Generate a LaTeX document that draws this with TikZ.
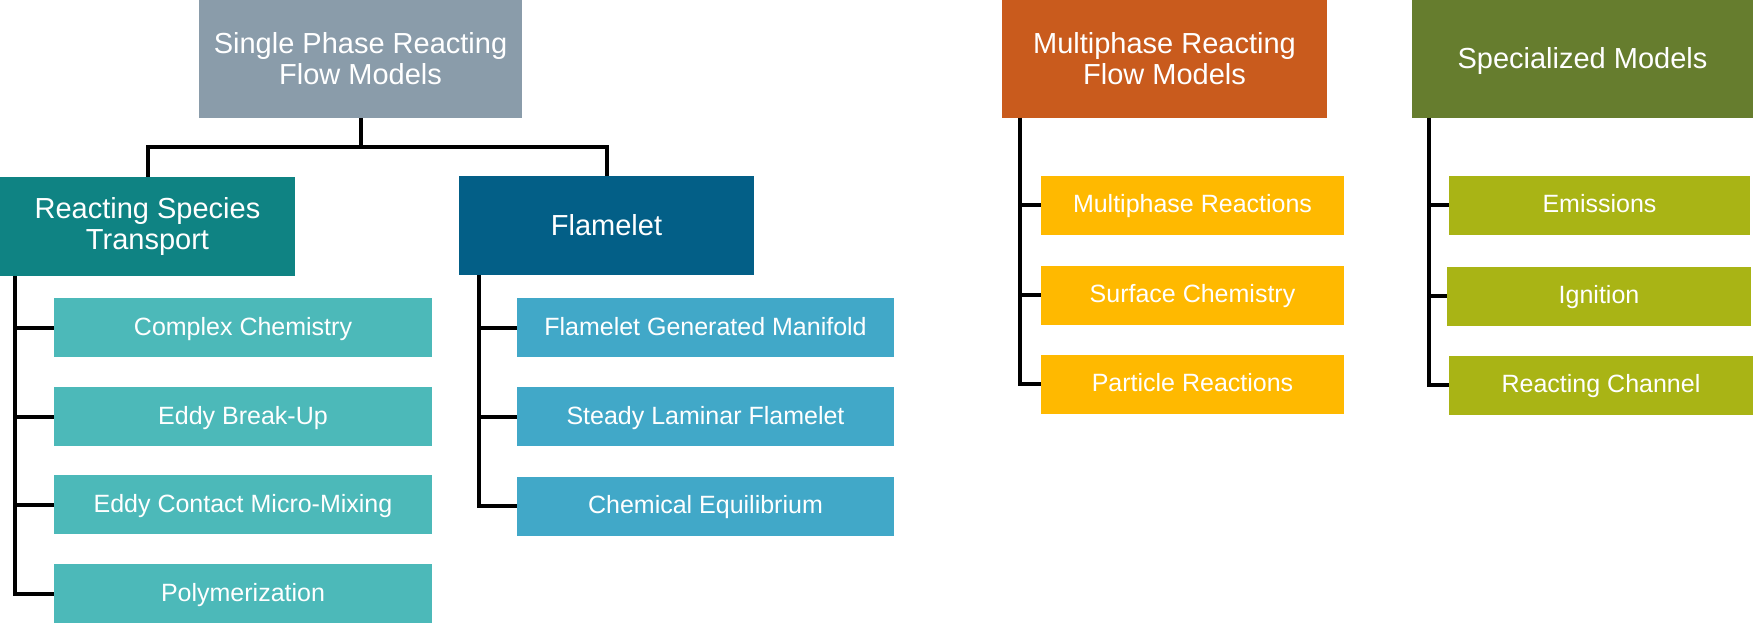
\documentclass[tikz,border=0pt]{standalone}
\usepackage{fontspec}
\setmainfont{Liberation Sans}
\definecolor{cSP}{HTML}{8A9CAA}
\definecolor{cRST}{HTML}{0F8383}
\definecolor{cFL}{HTML}{035F87}
\definecolor{cRSTc}{HTML}{4CB9B9}
\definecolor{cFLc}{HTML}{41A8C8}
\definecolor{cMP}{HTML}{C95B1D}
\definecolor{cMPc}{HTML}{FFB900}
\definecolor{cSM}{HTML}{667D2E}
\definecolor{cSMc}{HTML}{A9B415}
\begin{document}
\begin{tikzpicture}[x=1pt,y=-1pt,
  box/.style={inner sep=0pt,outer sep=0pt,text=white,align=center},
  head/.style={box,font=\fontsize{29}{31}\selectfont,minimum height=118pt},
  sub/.style={box,font=\fontsize{29}{31}\selectfont,minimum height=99pt,minimum width=295pt},
  leaf/.style={box,font=\fontsize{25}{27}\selectfont,minimum height=59pt,text height=18pt,text depth=3pt},
  conn/.style={line width=4pt,black}]
\useasboundingbox (0,0) rectangle (1753,623);
% headers
\node[head,fill=cSP,minimum width=323pt] (sp) at (360.5,59) {Single Phase Reacting\\Flow Models};
\node[head,fill=cMP,minimum width=325pt] (mp) at (1164.5,59) {Multiphase Reacting\\Flow Models};
\node[head,fill=cSM,minimum width=341pt,text height=21pt,text depth=2.5pt] (sm) at (1582.5,59) {Specialized Models};
% sub headers
\node[sub,fill=cRST] (rst) at (147.5,226.5) {Reacting Species\\Transport};
\node[sub,fill=cFL] (fl) at (606.5,225.5) {Flamelet};
% RST children
\node[leaf,fill=cRSTc,minimum width=378pt] (r1) at (243,327.5) {Complex Chemistry};
\node[leaf,fill=cRSTc,minimum width=378pt] (r2) at (243,416.5) {Eddy Break-Up};
\node[leaf,fill=cRSTc,minimum width=378pt] (r3) at (243,504.5) {Eddy Contact Micro-Mixing};
\node[leaf,fill=cRSTc,minimum width=378pt] (r4) at (243,593.5) {Polymerization};
% FL children
\node[leaf,fill=cFLc,minimum width=377pt] (f1) at (705.5,327.5) {Flamelet Generated Manifold};
\node[leaf,fill=cFLc,minimum width=377pt] (f2) at (705.5,416.5) {Steady Laminar Flamelet};
\node[leaf,fill=cFLc,minimum width=377pt] (f3) at (705.5,506) {Chemical Equilibrium};
% MP children
\node[leaf,fill=cMPc,minimum width=303pt] (m1) at (1192.5,205) {Multiphase Reactions};
\node[leaf,fill=cMPc,minimum width=303pt] (m2) at (1192.5,295) {Surface Chemistry};
\node[leaf,fill=cMPc,minimum width=303pt] (m3) at (1192.5,384) {Particle Reactions};
% SM children
\node[leaf,fill=cSMc,minimum width=301pt] (s1) at (1599.5,205) {Emissions};
\node[leaf,fill=cSMc,minimum width=304pt] (s2) at (1599,296) {Ignition};
\node[leaf,fill=cSMc,minimum width=304pt] (s3) at (1601,385) {Reacting Channel};
% connectors
\coordinate (jn) at ([yshift=-29pt]sp.south);
\draw[conn] (sp.south) -- (jn);
\draw[conn] (jn) -| (rst.north);
\draw[conn] (jn) -| (fl.north);
\foreach \c in {r1,r2,r3,r4}{\draw[conn] ([xshift=15pt]rst.south west) |- (\c.west);}
\foreach \c in {f1,f2,f3}{\draw[conn] ([xshift=20pt]fl.south west) |- (\c.west);}
\foreach \c in {m1,m2,m3}{\draw[conn] ([xshift=18pt]mp.south west) |- (\c.west);}
\foreach \c in {s1,s2,s3}{\draw[conn] ([xshift=17pt]sm.south west) |- (\c.west);}
\end{tikzpicture}
\end{document}
